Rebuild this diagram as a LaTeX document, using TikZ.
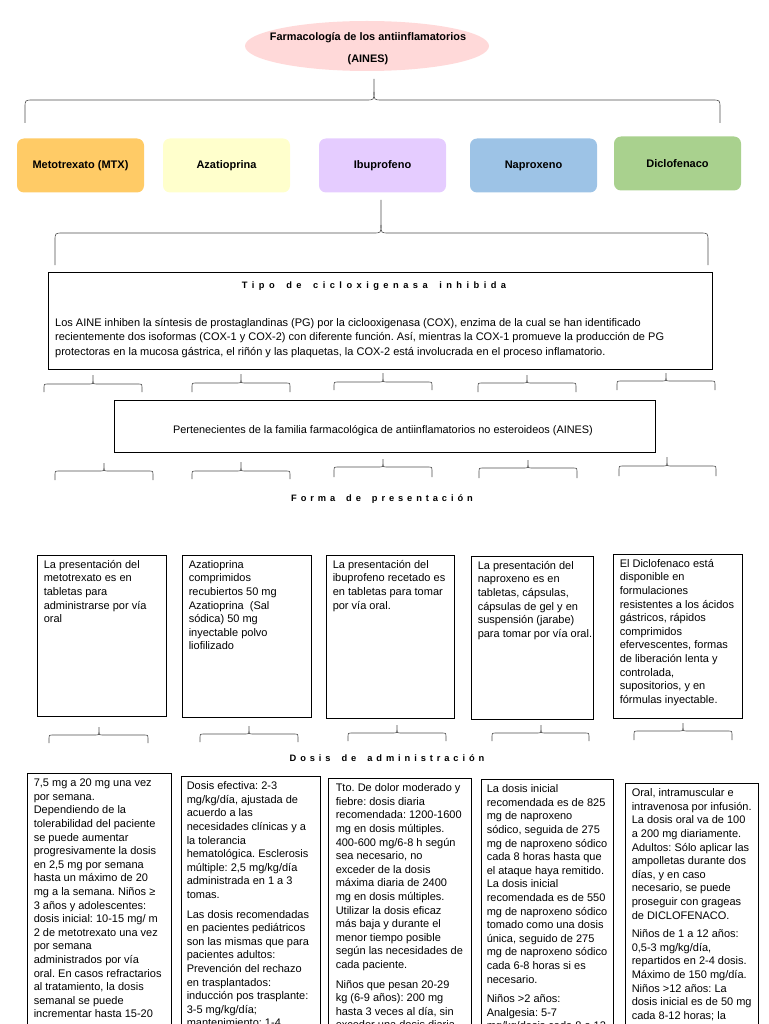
\documentclass[tikz,border=0pt]{standalone}
\usepackage{fontspec}
\setmainfont{Liberation Sans}
\usetikzlibrary{shapes.geometric}
\frenchspacing

\definecolor{rosa}{HTML}{FFD9D9}
\definecolor{naranja}{HTML}{FFCB66}
\definecolor{amarillo}{HTML}{FFFFCC}
\definecolor{lila}{HTML}{E5CCFF}
\definecolor{azul}{HTML}{9DC3E6}
\definecolor{verde}{HTML}{A9D18E}
\definecolor{gris}{HTML}{4D4D4D}

\tikzset{
  farmaco/.style={rounded corners=7pt, minimum width=127pt, minimum height=54pt, inner sep=0pt, font=\fontsize{11}{13}\selectfont\bfseries},
  marco/.style={draw=black, line width=0.9pt, inner sep=0pt},
  parrafo/.style={anchor=north west, align=left, inner sep=0pt, font=\fontsize{11}{13.6}\selectfont},
  parrafodosis/.style={parrafo, font=\fontsize{11}{13.6}\selectfont},
  espaciado/.style={anchor=base, inner sep=0pt, font=\fontsize{9.3}{11}\selectfont\bfseries\addfontfeature{LetterSpace=42}},
  llavelinea/.style={draw=gris, line width=0.6pt},
}

% extra gap between spaced words
\newcommand{\hueco}{\hspace{4.5pt}}

% brace: left, tip x, right, tip y, bar y, end y, corner
\newcommand{\llave}[7]{%
  \draw[llavelinea] (#1,#6) -- (#1,#5+#7) .. controls (#1,#5) .. (#1+#7,#5)
    -- (#2-#7,#5) .. controls (#2,#5) .. (#2,#5-#7) -- (#2,#4);
  \draw[llavelinea] (#3,#6) -- (#3,#5+#7) .. controls (#3,#5) .. (#3-#7,#5)
    -- (#2+#7,#5) .. controls (#2,#5) .. (#2,#5-#7);
}

\begin{document}
\begin{tikzpicture}[x=1pt,y=-1pt]
\useasboundingbox (0,0) rectangle (768,1024);
\clip (0,0) rectangle (768,1024);
%title
\node[ellipse, fill=rosa, minimum width=244pt, minimum height=50pt, inner sep=0pt] (titulo) at (367,46) {};
\node[align=center, inner sep=0pt, font=\fontsize{10.9}{22}\selectfont\bfseries] (titulotxt) at (368,48.5) {Farmacología de los antiinflamatorios\\(AINES)};
\llave{25}{374}{720}{79}{100}{123}{8}
%drugs
\node[farmaco, fill=naranja] (mtx) at (80.5,165.5) {Metotrexato (MTX)};
\node[farmaco, fill=amarillo] (aza) at (226.5,165.5) {Azatioprina};
\node[farmaco, fill=lila] (ibu) at (382.5,165.5) {Ibuprofeno};
\node[farmaco, fill=azul] (napro) at (533.5,165.5) {Naproxeno};
\node[farmaco, fill=verde] (diclo) at (677.5,163.5) {Diclofenaco};
\llave{55}{381}{708}{200}{233}{265}{8}
%tipo de cicloxigenasa
\node[marco, minimum width=664pt, minimum height=97pt] (tipo) at (380,320.5) {};
\node[espaciado, font=\fontsize{9.3}{11}\selectfont\bfseries\addfontfeature{LetterSpace=48}] (tipotit) at (374,288) {Tipo \hueco de \hueco cicloxigenasa \hueco inhibida};
\node[parrafo, font=\fontsize{11}{14.5}\selectfont] (tipotxt) at (55,316) {\strut Los AINE inhiben la síntesis de prostaglandinas (PG) por la ciclooxigenasa (COX), enzima de la cual se han identificado\\
recientemente dos isoformas (COX-1 y COX-2) con diferente función. Así, mientras la COX-1 promueve la producción de PG\\
protectoras en la mucosa gástrica, el riñón y las plaquetas, la COX-2 está involucrada en el proceso inflamatorio.};
%braces
\llave{44}{93}{142}{375}{384}{392}{3}
\llave{192}{241}{290}{374}{383}{392}{3}
\llave{334}{383}{432}{373}{382}{390}{3}
\llave{478}{527}{576}{375}{383}{392}{3}
\llave{617}{666}{715}{373}{381}{390}{3}
%familia
\node[marco, minimum width=541pt, minimum height=52pt] (familia) at (384.5,426) {};
\node[anchor=base, inner sep=0pt, font=\fontsize{10.9}{13}\selectfont] (familiatxt) at (383,433.5) {Pertenecientes de la familia farmacológica de antiinflamatorios no esteroideos (AINES)};
%braces
\llave{55}{104}{153}{463}{471}{480}{3}
\llave{192}{241}{290}{462}{471}{479}{3}
\llave{334}{383}{432}{459}{467}{477}{3}
\llave{479}{528}{577}{460}{468}{478}{3}
\llave{619}{667}{716}{457}{466}{476}{3}
%forma de presentacion
\node[espaciado] (formatit) at (382,501) {Forma \hueco de \hueco presentación};
\node[marco, minimum width=129pt, minimum height=161pt] (pres1) at (101.5,635.5) {};
\node[marco, minimum width=129pt, minimum height=162pt] (pres2) at (246.5,636) {};
\node[marco, minimum width=128pt, minimum height=163pt] (pres3) at (390,636.5) {};
\node[marco, minimum width=122pt, minimum height=163pt] (pres4) at (532,637.5) {};
\node[marco, minimum width=129pt, minimum height=164pt] (pres5) at (677.5,636) {};
\node[parrafo] (pres1txt) at ([shift={(7,4)}]pres1.north west) {\strut La presentación del\\metotrexato es en\\tabletas para\\administrarse por vía\\oral};
\node[parrafo] (pres2txt) at ([shift={(7,4)}]pres2.north west) {\strut Azatioprina\\comprimidos\\recubiertos 50 mg\\Azatioprina\ \ (Sal\\sódica) 50 mg\\inyectable polvo\\liofilizado};
\node[parrafo] (pres3txt) at ([shift={(7,4)}]pres3.north west) {\strut La presentación del\\ibuprofeno recetado es\\en tabletas para tomar\\por vía oral.};
\node[parrafo] (pres4txt) at ([shift={(7,4)}]pres4.north west) {\strut La presentación del\\naproxeno es en\\tabletas, cápsulas,\\cápsulas de gel y en\\suspensión (jarabe)\\para tomar por vía oral.};
\node[parrafo] (pres5txt) at ([shift={(7,4)}]pres5.north west) {\strut El Diclofenaco está\\disponible en\\formulaciones\\resistentes a los ácidos\\gástricos, rápidos\\comprimidos\\efervescentes, formas\\de liberación lenta y\\controlada,\\supositorios, y en\\fórmulas inyectable.};
%braces
\llave{49}{99}{148}{727}{735}{743}{3}
\llave{200}{249}{298}{726}{734}{742}{3}
\llave{348}{397}{446}{725}{733}{741}{3}
\llave{492}{541}{589}{725}{733}{741}{3}
\llave{634}{683}{732}{723}{731}{740}{3}
%dosis de administracion
\node[espaciado] (dosistit) at (387,761) {Dosis \hueco de \hueco administración};
\node[marco, minimum width=144pt, minimum height=287pt] (dosis1) at (99,916.5) {};
\node[marco, minimum width=139pt, minimum height=284pt] (dosis2) at (250.5,918) {};
\node[marco, minimum width=143pt, minimum height=282pt] (dosis3) at (399.5,919) {};
\node[marco, minimum width=132pt, minimum height=281pt] (dosis4) at (547,919.5) {};
\node[marco, minimum width=133pt, minimum height=277pt] (dosis5) at (691.5,921.5) {};
\node[parrafodosis] (dosis1txt) at ([shift={(7,4.5)}]dosis1.north west) {\strut 7,5 mg a 20 mg una vez\\por semana.\\Dependiendo de la\\tolerabilidad del paciente\\se puede aumentar\\progresivamente la dosis\\en 2,5 mg por semana\\hasta un máximo de 20\\mg a la semana. Niños ≥\\3 años y adolescentes:\\dosis inicial: 10-15 mg/ m\\2 de metotrexato una vez\\por semana\\administrados por vía\\oral. En casos refractarios\\al tratamiento, la dosis\\semanal se puede\\incrementar hasta 15-20};
\node[parrafodosis] (dosis2txt) at ([shift={(6,4.5)}]dosis2.north west) {\strut Dosis efectiva: 2-3\\mg/kg/día, ajustada de\\acuerdo a las\\necesidades clínicas y a\\la tolerancia\\hematológica. Esclerosis\\múltiple: 2,5 mg/kg/día\\administrada en 1 a 3\\tomas.\\[6pt]Las dosis recomendadas\\en pacientes pediátricos\\son las mismas que para\\pacientes adultos:\\Prevención del rechazo\\en trasplantados:\\inducción pos trasplante:\\3-5 mg/kg/día;\\mantenimiento: 1-4};
\node[parrafodosis] (dosis3txt) at ([shift={(8,4.5)}]dosis3.north west) {\strut Tto. De dolor moderado y\\fiebre: dosis diaria\\recomendada: 1200-1600\\mg en dosis múltiples.\\400-600 mg/6-8 h según\\sea necesario, no\\exceder de la dosis\\máxima diaria de 2400\\mg en dosis múltiples.\\Utilizar la dosis eficaz\\más baja y durante el\\menor tiempo posible\\según las necesidades de\\cada paciente.\\[6pt]Niños que pesan 20-29\\kg (6-9 años): 200 mg\\hasta 3 veces al día, sin\\exceder una dosis diaria};
\node[parrafodosis] (dosis4txt) at ([shift={(6,4.5)}]dosis4.north west) {\strut La dosis inicial\\recomendada es de 825\\mg de naproxeno\\sódico, seguida de 275\\mg de naproxeno sódico\\cada 8 horas hasta que\\el ataque haya remitido.\\La dosis inicial\\recomendada es de 550\\mg de naproxeno sódico\\tomado como una dosis\\única, seguido de 275\\mg de naproxeno sódico\\cada 6-8 horas si es\\necesario.\\[6pt]Niños >2 años:\\Analgesia: 5-7\\mg/kg/dosis cada 8 a 12};
\node[parrafodosis] (dosis5txt) at ([shift={(7,4.5)}]dosis5.north west) {\strut Oral, intramuscular e\\intravenosa por infusión.\\La dosis oral va de 100\\a 200 mg diariamente.\\Adultos: Sólo aplicar las\\ampolletas durante dos\\días, y en caso\\necesario, se puede\\proseguir con grageas\\de DICLOFENACO.\\[5pt]Niños de 1 a 12 años:\\0,5-3 mg/kg/día,\\repartidos en 2-4 dosis.\\Máximo de 150 mg/día.\\Niños >12 años: La\\dosis inicial es de 50 mg\\cada 8-12 horas; la};
\end{tikzpicture}
\end{document}
